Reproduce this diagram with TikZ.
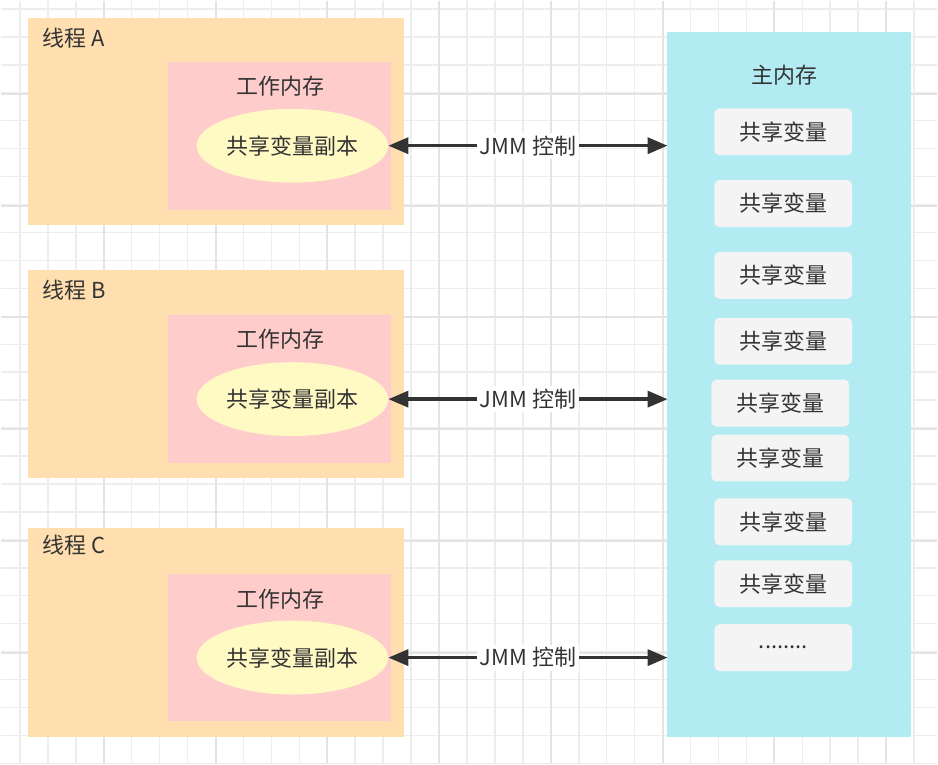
\documentclass[tikz,border=0pt]{standalone}
\usepackage{fontspec}
\setmainfont{Noto Sans CJK SC}
\usetikzlibrary{arrows.meta,shapes.geometric}
\definecolor{thr}{HTML}{FFDFB0}
\definecolor{wm}{HTML}{FFCCCC}
\definecolor{el}{HTML}{FFF9C4}
\definecolor{mm}{HTML}{B2EBF2}
\definecolor{var}{HTML}{F4F4F4}
\definecolor{gmin}{HTML}{EDEDED}
\definecolor{gmaj}{HTML}{E3E3E3}
\begin{document}
\begin{tikzpicture}[x=1pt,y=-1pt,
  txt/.style={font=\fontsize{22}{26}\selectfont,text=black!80},
  thread/.style={fill=thr,draw=none},
  work/.style={fill=wm,draw=none},
  copy/.style={ellipse,fill=el,minimum width=192pt,minimum height=74pt,inner sep=0pt,txt},
  sv/.style={fill=var,rounded corners=5pt,minimum width=138pt,minimum height=47pt,inner sep=0pt,txt},
  jmm/.style={{Triangle[length=20pt,width=16pt]}-{Triangle[length=20pt,width=16pt]},line width=3.5pt,draw=black!80},
  lab/.style={fill=white,txt,inner sep=3pt}]
\fill[white] (0,0) rectangle (938,764);
\foreach \x in {19,47,...,938} \draw[gmin,line width=1.5pt] (\x,0) -- (\x,764);
\foreach \y in {8,36,...,764} \draw[gmin,line width=1.5pt] (0,\y) -- (938,\y);
\foreach \x in {103,215,...,938} \draw[gmaj,line width=2pt] (\x,0) -- (\x,764);
\foreach \y in {93,205,...,764} \draw[gmaj,line width=2pt] (0,\y) -- (938,\y);
\useasboundingbox (0,0) rectangle (938,764);
\foreach \n/\t/\w in {A/17/224,B/270/478,C/528/738}{
  \fill[thread] (27,\t) rectangle (404,\w);
}
\node[txt,anchor=west] (la) at (38,37) {线程 A};
\node[txt,anchor=west] (lb) at (38,290) {线程 B};
\node[txt,anchor=west] (lc) at (38,545) {线程 C};
\fill[work] (167,61) rectangle (391,209);
\fill[work] (167,315) rectangle (391,463);
\fill[work] (167,574) rectangle (391,722);
\node[txt] (wa) at (280,85) {工作内存};
\node[txt] (wb) at (280,339) {工作内存};
\node[txt] (wc) at (280,599) {工作内存};
\node[copy] (ca) at (292,145) {共享变量副本};
\node[copy] (cb) at (292,399) {共享变量副本};
\node[copy] (cc) at (292,658) {共享变量副本};
\fill[mm] (667,31) rectangle (912,738);
\node[txt] (mt) at (785,74) {主内存};
\coordinate (ma) at (668,145);
\coordinate (mb) at (668,399);
\coordinate (mc) at (668,658);
\node[sv] (v1) at (784,131) {共享变量};
\node[sv] (v2) at (784,203) {共享变量};
\node[sv] (v3) at (784,275) {共享变量};
\node[sv] (v4) at (784,341) {共享变量};
\node[sv] (v5) at (781,403) {共享变量};
\node[sv] (v6) at (781,458) {共享变量};
\node[sv] (v7) at (784,522) {共享变量};
\node[sv] (v8) at (784,584) {共享变量};
\node[sv] (v9) at (784,648) {........};
\draw[jmm] (ca) -- node[lab] {JMM 控制} (ma);
\draw[jmm] (cb) -- node[lab] {JMM 控制} (mb);
\draw[jmm] (cc) -- node[lab] {JMM 控制} (mc);
\end{tikzpicture}
\end{document}
